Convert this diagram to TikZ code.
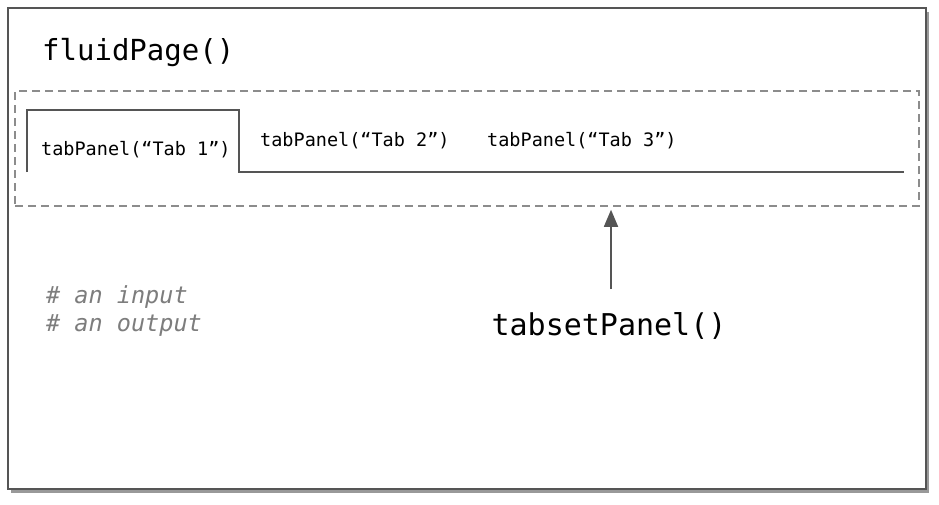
\documentclass[tikz,border=0pt]{standalone}
\usepackage{fontspec}
\setmonofont{DejaVu Sans Mono}[ItalicFont={DejaVu Sans Mono Oblique}]
\usetikzlibrary{shadows,arrows.meta,positioning}
\definecolor{framegray}{RGB}{85,85,85}
\definecolor{dashgray}{RGB}{140,140,140}
\definecolor{commentgray}{RGB}{125,125,125}

\begin{document}
\begin{tikzpicture}[x=1pt, y=-1pt,
    page/.style={rectangle, draw=framegray, line width=2pt, fill=white, minimum width=918pt, minimum height=481pt, inner sep=0pt,
        drop shadow={shadow xshift=3pt, shadow yshift=-4pt, opacity=0.4, fill=black}},
    tabset/.style={rectangle, draw=dashgray, line width=1.5pt, dash pattern=on 8pt off 5pt, minimum width=904pt, minimum height=115pt, inner sep=0pt},
    code/.style={font=\ttfamily\fontsize{18.5}{22}\selectfont, inner sep=0pt},
    title/.style={font=\ttfamily\fontsize{29}{34}\selectfont, inner sep=0pt},
    comment/.style={font=\ttfamily\itshape\fontsize{23.5}{28}\selectfont, text=commentgray, inner sep=0pt},
    tabline/.style={draw=framegray, line width=2pt},
    pointer/.style={-{Triangle[length=17pt,width=14pt]}, line width=1.6pt, framegray}
]

\useasboundingbox (0,0) rectangle (939,504);

% Page
\node[page] (page) at (467,248.5) {};
\node[title, anchor=west] (fluid) at (42,53) {fluidPage()};

% Tabset
\node[tabset] (tabs) at (467,148.5) {};

% Tab outline
\coordinate (tabA) at (27,172);
\coordinate (tabB) at (27,110);
\coordinate (tabC) at (239,110);
\coordinate (tabD) at (239,172);
\coordinate (tabE) at (904,172);
\draw[tabline] (tabA) -- (tabB) -- (tabC) -- (tabD) -- (tabE);

% Tab labels
\node[code, anchor=west] (tab1) at (41,150) {tabPanel(“Tab 1”)};
\node[code, anchor=west] (tab2) at (260,141) {tabPanel(“Tab 2”)};
\node[code, anchor=west] (tab3) at (487,141) {tabPanel(“Tab 3”)};

% Comments
\node[comment, anchor=west] (input) at (46,297) {\# an input};
\node[comment, anchor=west] (output) at (46,326) {\# an output};

% Pointer
\node[title, font=\ttfamily\fontsize{30}{36}\selectfont] (tabsetlbl) at (609,326) {tabsetPanel()};
\coordinate (ptail) at (611,289);
\draw[pointer] (ptail) -- ([yshift=-3pt]tabs.south -| ptail);

\end{tikzpicture}
\end{document}
